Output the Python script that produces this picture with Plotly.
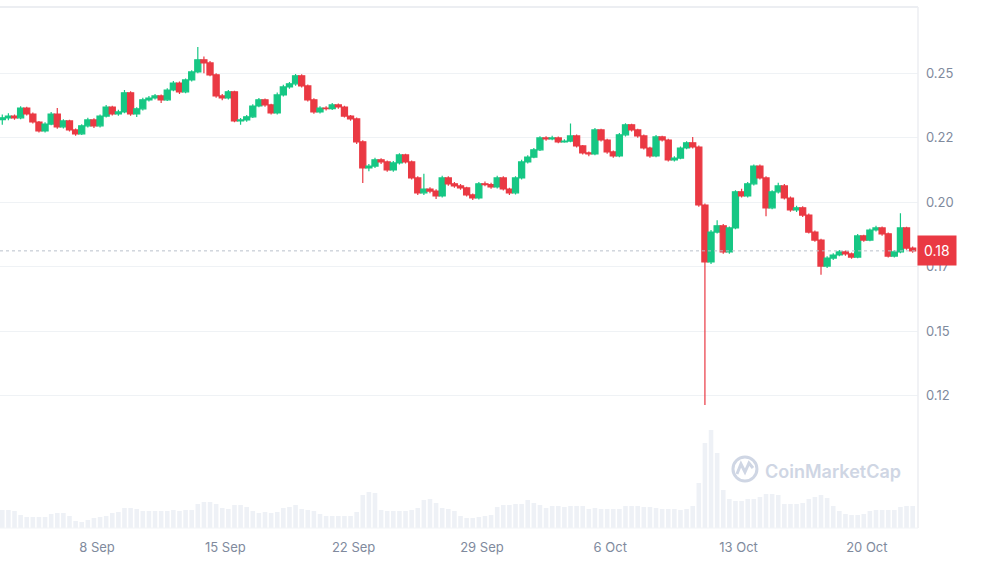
import pandas as pd
import plotly.graph_objects as go

# 8-hour candles, 2 Sep 2025 20:00 -> 22 Oct 2025 12:00
times = pd.date_range("2025-09-02 20:00", periods=150, freq="8h")

opens = [
 .2320, .2327, .2334, .2327, .2365, .2342, .2311, .2276, .2303, .2342,
 .2292, .2315, .2280, .2265, .2296, .2319, .2296, .2334, .2369, .2342,
 .2350, .2424, .2342, .2362, .2397, .2404, .2412, .2397, .2435, .2462,
 .2428, .2474, .2505, .2552, .2540, .2494, .2412, .2404, .2428, .2315,
 .2319, .2331, .2373, .2397, .2377, .2346, .2416, .2447, .2459, .2490,
 .2451, .2397, .2350, .2365, .2363, .2377, .2369, .2334, .2323, .2234,
 .2133, .2140, .2164, .2156, .2125, .2152, .2183, .2156, .2094, .2036,
 .2051, .2043, .2024, .2094, .2071, .2063, .2055, .2028, .2016, .2071,
 .2068, .2059, .2094, .2051, .2036, .2094, .2156, .2175, .2203, .2249,
 .2245, .2249, .2234, .2237, .2257, .2218, .2191, .2187, .2280, .2241,
 .2195, .2179, .2261, .2300, .2280, .2257, .2210, .2179, .2253, .2241,
 .2164, .2171, .2210, .2230, .2214, .1989, .1768, .1884, .1908, .1807,
 .1900, .2040, .2024, .2071, .2140, .2094, .1978, .2040, .2063, .2016,
 .1970, .1978, .1950, .1884, .1853, .1752, .1783, .1795, .1807, .1799,
 .1787, .1869, .1853, .1892, .1900, .1877, .1791, .1807, .1900, .1822]

closes = [
 .2327, .2334, .2327, .2365, .2342, .2311, .2276, .2303, .2342, .2292,
 .2315, .2280, .2265, .2296, .2319, .2296, .2334, .2369, .2342, .2350,
 .2424, .2342, .2362, .2397, .2404, .2412, .2397, .2435, .2462, .2428,
 .2474, .2505, .2552, .2540, .2494, .2412, .2404, .2428, .2315, .2319,
 .2331, .2373, .2397, .2377, .2346, .2416, .2447, .2459, .2490, .2451,
 .2397, .2350, .2365, .2363, .2377, .2369, .2334, .2323, .2234, .2133,
 .2140, .2164, .2156, .2125, .2152, .2183, .2156, .2094, .2036, .2051,
 .2043, .2024, .2094, .2071, .2063, .2055, .2028, .2016, .2071, .2068,
 .2059, .2094, .2051, .2036, .2094, .2156, .2175, .2203, .2249, .2245,
 .2249, .2234, .2237, .2257, .2218, .2191, .2187, .2280, .2241, .2195,
 .2179, .2261, .2300, .2280, .2257, .2210, .2179, .2253, .2241, .2164,
 .2171, .2210, .2230, .2214, .1989, .1768, .1884, .1908, .1807, .1900,
 .2040, .2024, .2071, .2140, .2094, .1978, .2040, .2063, .2016, .1970,
 .1978, .1950, .1884, .1853, .1752, .1783, .1795, .1807, .1799, .1787,
 .1869, .1853, .1892, .1900, .1877, .1791, .1807, .1900, .1822, .1811]

highs = [
 .2340, .2345, .2340, .2372, .2370, .2348, .2315, .2310, .2350, .2365,
 .2322, .2320, .2286, .2302, .2327, .2325, .2340, .2377, .2374, .2358,
 .2435, .2430, .2368, .2405, .2412, .2420, .2418, .2442, .2470, .2468,
 .2480, .2512, .2602, .2565, .2548, .2500, .2420, .2435, .2432, .2326,
 .2338, .2380, .2404, .2402, .2382, .2425, .2455, .2466, .2497, .2496,
 .2456, .2403, .2372, .2372, .2385, .2383, .2374, .2338, .2328, .2240,
 .2148, .2172, .2170, .2162, .2160, .2190, .2188, .2162, .2100, .2110,
 .2058, .2050, .2102, .2100, .2078, .2070, .2060, .2034, .2078, .2080,
 .2075, .2102, .2100, .2056, .2100, .2164, .2182, .2210, .2256, .2256,
 .2258, .2255, .2244, .2305, .2262, .2222, .2196, .2288, .2285, .2246,
 .2200, .2268, .2306, .2304, .2285, .2262, .2215, .2260, .2258, .2246,
 .2178, .2216, .2236, .2253, .2220, .1995, .1892, .1930, .1915, .1906,
 .2046, .2052, .2078, .2146, .2146, .2100, .2046, .2075, .2070, .2022,
 .1986, .1984, .1956, .1890, .1858, .1790, .1802, .1814, .1812, .1805,
 .1876, .1874, .1898, .1908, .1906, .1882, .1814, .1957, .1905, .1828]

lows = [
 .2300, .2318, .2320, .2322, .2336, .2305, .2270, .2270, .2298, .2285,
 .2286, .2274, .2258, .2260, .2290, .2288, .2290, .2328, .2336, .2335,
 .2345, .2335, .2330, .2356, .2390, .2398, .2385, .2392, .2430, .2420,
 .2422, .2468, .2500, .2500, .2488, .2405, .2395, .2398, .2310, .2300,
 .2312, .2326, .2368, .2370, .2340, .2340, .2410, .2440, .2452, .2445,
 .2390, .2343, .2344, .2356, .2357, .2362, .2328, .2316, .2226, .2074,
 .2120, .2132, .2148, .2118, .2118, .2146, .2150, .2088, .2028, .2028,
 .2035, .2012, .2018, .2064, .2056, .2048, .2022, .2008, .2010, .2062,
 .2052, .2053, .2045, .2028, .2030, .2088, .2150, .2170, .2198, .2238,
 .2240, .2228, .2230, .2232, .2212, .2185, .2178, .2182, .2235, .2188,
 .2172, .2174, .2255, .2274, .2250, .2204, .2172, .2174, .2235, .2158,
 .2158, .2166, .2205, .2208, .1982, .1213, .1760, .1878, .1800, .1800,
 .1895, .2018, .2018, .2065, .2088, .1945, .1972, .2034, .2010, .1963,
 .1962, .1942, .1878, .1846, .1718, .1745, .1776, .1790, .1792, .1780,
 .1782, .1846, .1848, .1886, .1870, .1785, .1785, .1802, .1815, .1804]

volumes = [
 18, 18, 17, 13, 11, 11, 11, 11, 14, 15,
 15, 12, 7, 6, 8, 10, 11, 12, 15, 16,
 20, 20, 19, 17, 17, 17, 17, 17, 18, 17,
 18, 18, 24, 26, 26, 24, 20, 19, 23, 23,
 21, 17, 15, 16, 15, 16, 20, 21, 23, 19,
 18, 17, 14, 12, 12, 12, 12, 12, 16, 33,
 36, 35, 18, 17, 17, 17, 17, 18, 20, 28,
 29, 25, 20, 19, 17, 12, 10, 10, 11, 12,
 13, 21, 23, 23, 24, 24, 28, 25, 23, 20,
 22, 22, 21, 22, 22, 22, 19, 20, 19, 19,
 19, 19, 22, 22, 22, 21, 21, 20, 19, 19,
 19, 18, 19, 22, 45, 85, 98, 75, 38, 29,
 27, 27, 29, 29, 31, 34, 34, 33, 24, 24,
 24, 25, 29, 31, 33, 30, 22, 17, 14, 13,
 13, 14, 17, 18, 18, 18, 18, 21, 22, 22]

price_ticks = [0.125, 0.15, 0.175, 0.20, 0.225, 0.25]
price_tick_text = ["0.12", "0.15", "0.17", "0.20", "0.22", "0.25"]
date_ticks = ["2025-09-08", "2025-09-15", "2025-09-22", "2025-09-29",
              "2025-10-06", "2025-10-13", "2025-10-20"]
date_tick_text = ["8 Sep", "15 Sep", "22 Sep", "29 Sep", "6 Oct", "13 Oct", "20 Oct"]
last_price = 0.1811

GREEN = "#16c784"
RED = "#ea3943"
LABEL = "#808a9d"
GRID = "#eff2f5"

fig = go.Figure()
fig.add_trace(go.Bar(
    x=times, y=volumes, yaxis="y", marker=dict(color="#eef1f6", line=dict(width=0)),
    hoverinfo="skip", showlegend=False,
))
fig.add_trace(go.Candlestick(
    x=times, open=opens, high=highs, low=lows, close=closes, yaxis="y2",
    increasing=dict(line=dict(color=GREEN, width=1.2), fillcolor=GREEN),
    decreasing=dict(line=dict(color=RED, width=1.2), fillcolor=RED),
    whiskerwidth=0, showlegend=False, hoverinfo="skip",
))

fig.update_layout(
    width=982, height=565,
    margin=dict(l=0, r=64, t=7, b=37),
    paper_bgcolor="white", plot_bgcolor="white",
    font=dict(family="Inter, Roboto, sans-serif", size=13, color=LABEL),
    bargap=0.25, boxgap=0.0, boxgroupgap=0.0,
    hovermode=False,
    xaxis=dict(
        type="date", range=["2025-09-02 17:00", "2025-10-22 19:00"],
        tickvals=date_ticks, ticktext=date_tick_text,
        showgrid=False, zeroline=False, showline=False, ticks="",
        rangeslider=dict(visible=False), ticklabelstandoff=10,
        tickfont=dict(size=13, color=LABEL),
    ),
    yaxis=dict(range=[0, 521], visible=False, showgrid=False, fixedrange=True),
    yaxis2=dict(
        overlaying="y", side="right", range=[0.0736, 0.2757],
        tickvals=price_ticks, ticktext=price_tick_text,
        showgrid=True, gridcolor=GRID, gridwidth=1,
        zeroline=False, showline=False, ticks="", ticklabelstandoff=7,
        tickfont=dict(size=13, color=LABEL),
    ),
)

# frame lines
fig.add_shape(type="line", xref="paper", yref="paper", x0=0, x1=1, y0=1, y1=1,
              line=dict(color="#e6e9ee", width=1.5))
fig.add_shape(type="line", xref="paper", yref="paper", x0=1, x1=1, y0=0, y1=1,
              line=dict(color="#eceef2", width=1.5))
fig.add_shape(type="line", xref="paper", yref="paper", x0=0, x1=1, y0=0, y1=0,
              line=dict(color="#f2f4f7", width=1))

# current price dotted line + label
fig.add_shape(type="line", xref="paper", yref="y2", x0=0, x1=1,
              y0=last_price, y1=last_price,
              line=dict(color="#b9c0cb", width=1, dash="dot"))
fig.add_annotation(xref="paper", yref="y2", x=1, y=last_price, xanchor="left",
                   yanchor="middle", text="0.18", showarrow=False,
                   font=dict(color="white", size=14, family="Inter"),
                   bgcolor=RED, borderpad=6, xshift=-1)

# watermark
WM = "#cfd6e4"
fig.add_annotation(xref="paper", yref="paper", x=0.9074, y=0.1094,
                   text="CoinMarketCap", showarrow=False,
                   font=dict(color=WM, size=18, family="Inter", weight=600),
                   xanchor="center", yanchor="middle")
fig.add_shape(type="circle", xref="paper", yref="paper",
              xsizemode="pixel", ysizemode="pixel",
              xanchor=0.8115, yanchor=0.1132, x0=-12, x1=12, y0=-12, y1=12,
              line=dict(color=WM, width=3))
fig.add_shape(type="path", xref="paper", yref="paper",
              xsizemode="pixel", ysizemode="pixel",
              xanchor=0.8115, yanchor=0.1132,
              path="M -8 -5 L -4 5 L 0 -3 L 4 6 L 8 1",
              line=dict(color=WM, width=3))

fig.write_html("out.html", config={"displayModeBar": False, "staticPlot": True},
               post_script="document.body.style.margin='0';")
